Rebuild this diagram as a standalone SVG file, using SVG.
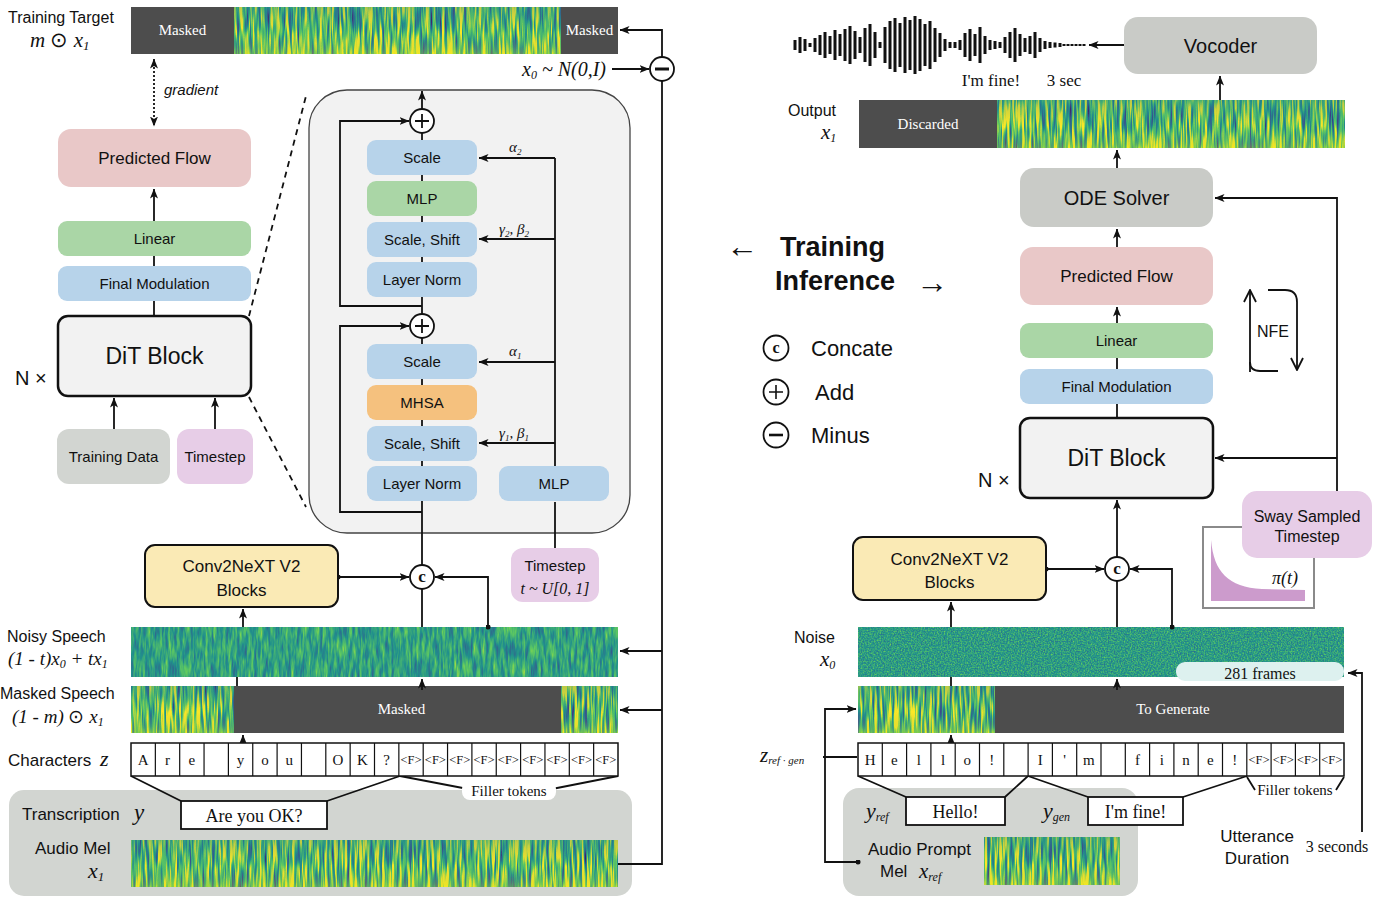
<svg xmlns="http://www.w3.org/2000/svg" width="1376" height="905" viewBox="0 0 1376 905">
<style>
.sans{font-family:"Liberation Sans",Arial,sans-serif;fill:#111}
.serif{font-family:"Liberation Serif","Times New Roman",serif;fill:#111}
.it{font-style:italic}
.b{font-weight:bold}
.mid{text-anchor:middle}
.w{fill:#fff}
.ln{stroke:#111;stroke-width:1.8;fill:none}
.arr{marker-end:url(#ah)}
.dotarr{marker-start:url(#dot);marker-end:url(#ah)}
.blue{fill:#b7d3ea}
.green{fill:#aad6a6}
.pink{fill:#e9c8c8}
.orange{fill:#f5c17e}
.purple{fill:#e7cde7}
.gray{fill:#d2d5d1}
.dgray{fill:#c9cbc7}
.yellow{fill:#faeab5;stroke:#111;stroke-width:2}
.dit{fill:#f2f2f2;stroke:#111;stroke-width:2.5}
.mask{fill:#4d4d4d}
.cell{fill:#fff;stroke:#111;stroke-width:1.5}
.op{fill:#fff;stroke:#111;stroke-width:1.8}
</style>
<defs>
<marker id="ah" viewBox="0 0 10 8" refX="9.5" refY="4" markerWidth="10" markerHeight="8" markerUnits="userSpaceOnUse" orient="auto-start-reverse"><path d="M0,0 L10,4 L0,8 L2.5,4 z" fill="#111"/></marker>
<marker id="dot" viewBox="0 0 6 6" refX="3" refY="3" markerWidth="5" markerHeight="5" markerUnits="userSpaceOnUse"><circle cx="3" cy="3" r="3" fill="#111"/></marker>
<marker id="oa" viewBox="0 0 14 14" refX="13" refY="7" markerWidth="14" markerHeight="14" markerUnits="userSpaceOnUse" orient="auto"><path d="M1,1 L13,7 L1,13" fill="none" stroke="#111" stroke-width="1.8"/></marker>
<filter id="spec" x="0" y="0" width="1" height="1" color-interpolation-filters="sRGB">
<feTurbulence type="fractalNoise" baseFrequency="0.4 0.03" numOctaves="2" seed="7"/>
<feColorMatrix type="matrix" values="1.7 0 0 0 -0.14  1.7 0 0 0 -0.14  1.7 0 0 0 -0.14  0 0 0 0 1"/>
<feComponentTransfer>
<feFuncR type="table" tableValues="0.27 0.23 0.13 0.37 0.99"/>
<feFuncG type="table" tableValues="0.0 0.32 0.57 0.79 0.91"/>
<feFuncB type="table" tableValues="0.33 0.55 0.55 0.38 0.15"/>
</feComponentTransfer>
<feComposite in2="SourceGraphic" operator="in"/>
</filter>
<filter id="noise" x="0" y="0" width="1" height="1" color-interpolation-filters="sRGB">
<feTurbulence type="fractalNoise" baseFrequency="0.7" numOctaves="2" seed="3"/>
<feColorMatrix type="matrix" values="0.6 0 0 0 0.25  0.6 0 0 0 0.25  0.6 0 0 0 0.25  0 0 0 0 1"/>
<feComponentTransfer>
<feFuncR type="table" tableValues="0.27 0.23 0.13 0.37 0.99"/>
<feFuncG type="table" tableValues="0.0 0.32 0.57 0.79 0.91"/>
<feFuncB type="table" tableValues="0.33 0.55 0.55 0.38 0.15"/>
</feComponentTransfer>
<feComposite in2="SourceGraphic" operator="in"/>
</filter>
<filter id="noisy" x="0" y="0" width="1" height="1" color-interpolation-filters="sRGB">
<feTurbulence type="fractalNoise" baseFrequency="0.35 0.05" numOctaves="3" seed="11"/>
<feColorMatrix type="matrix" values="0.7 0 0 0 0.22  0.7 0 0 0 0.22  0.7 0 0 0 0.22  0 0 0 0 1"/>
<feComponentTransfer>
<feFuncR type="table" tableValues="0.27 0.23 0.13 0.37 0.99"/>
<feFuncG type="table" tableValues="0.0 0.32 0.57 0.79 0.91"/>
<feFuncB type="table" tableValues="0.33 0.55 0.55 0.38 0.15"/>
</feComponentTransfer>
<feComposite in2="SourceGraphic" operator="in"/>
</filter>
<linearGradient id="specTint" x1="0" y1="0" x2="0" y2="1">
<stop offset="0" stop-color="#26828e" stop-opacity="0.3"/>
<stop offset="0.55" stop-color="#26828e" stop-opacity="0"/>
<stop offset="1" stop-color="#d8e219" stop-opacity="0.3"/>
</linearGradient>
</defs>
<rect width="1376" height="905" fill="#fff"/>

<!-- background panels -->
<g id="transcription-panel"><rect x="9" y="790" width="623" height="106" rx="15" class="gray"/></g>
<g id="inference-panel"><rect x="843" y="788" width="295" height="108" rx="16" class="gray"/></g>
<g id="dit-detail"><rect x="309" y="90" width="321" height="443" rx="38" fill="#f2f2f2" stroke="#444" stroke-width="1.3"/></g>

<!-- spectrograms -->
<g id="training-target">
<rect x="131" y="7" width="487" height="47" fill="#3b9" filter="url(#spec)"/>
<rect x="131" y="7" width="487" height="47" fill="url(#specTint)"/>
<rect x="131" y="7" width="103" height="47" class="mask"/>
<rect x="561" y="7" width="57" height="47" class="mask"/>
<text x="182.5" y="35" class="serif mid w" font-size="15">Masked</text>
<text x="589.5" y="35" class="serif mid w" font-size="15">Masked</text>
</g>
<g id="noisy-speech">
<rect x="131" y="627" width="487" height="50" fill="#2a9" filter="url(#noisy)"/>
</g>
<g id="masked-speech">
<rect x="131" y="686" width="487" height="47" fill="#3b9" filter="url(#spec)"/>
<rect x="131" y="686" width="487" height="47" fill="url(#specTint)"/>
<rect x="234" y="686" width="327" height="47" class="mask"/>
<text x="401.5" y="714" class="serif mid w" font-size="15">Masked</text>
</g>
<g id="audio-mel">
<rect x="131" y="840" width="487" height="47" fill="#3b9" filter="url(#spec)"/>
<rect x="131" y="840" width="487" height="47" fill="url(#specTint)"/>
</g>
<g id="output-x1">
<rect x="859" y="100" width="486" height="48" fill="#3b9" filter="url(#spec)"/>
<rect x="859" y="100" width="486" height="48" fill="url(#specTint)"/>
<rect x="859" y="100" width="138" height="48" class="mask"/>
<text x="928" y="129" class="serif mid w" font-size="15">Discarded</text>
</g>
<g id="noise-x0">
<rect x="858" y="627" width="486" height="50" fill="#2a9" filter="url(#noise)"/>
<rect x="1176" y="662" width="168" height="19" rx="9" fill="#ddf1ef"/>
<text x="1260" y="679" class="serif mid" font-size="16">281 frames</text>
</g>
<g id="masked-speech-inf">
<rect x="858" y="686" width="486" height="47" fill="#3b9" filter="url(#spec)"/>
<rect x="858" y="686" width="486" height="47" fill="url(#specTint)"/>
<rect x="995" y="686" width="349" height="47" class="mask"/>
<text x="1173" y="714" class="serif mid w" font-size="15">To Generate</text>
</g>
<g id="audio-prompt-mel">
<rect x="984" y="837" width="136" height="48" fill="#3b9" filter="url(#spec)"/>
<rect x="984" y="837" width="136" height="48" fill="url(#specTint)"/>
</g>

<!-- connectors -->
<g id="connectors">
<path d="M154,59 V126" class="ln" stroke-dasharray="2 2" marker-start="url(#ah)" marker-end="url(#ah)"/>
<path d="M154,221 V189" class="ln arr"/>
<path d="M154,266 V256" class="ln"/>
<path d="M154,316 V301" class="ln"/>
<path d="M114,429 V398" class="ln arr"/>
<path d="M215,429 V398" class="ln arr"/>
<path d="M249,316 L306,96" class="ln" stroke-width="1.5" stroke-dasharray="6 5"/>
<path d="M249,397 L306,507" class="ln" stroke-width="1.5" stroke-dasharray="6 5"/>
<path d="M422,565 V91" class="ln arr"/>
<path d="M422,306 H340 V121 H409" class="ln arr"/>
<path d="M422,512 H340 V326 H409" class="ln arr"/>
<path d="M555,466 V158" class="ln"/>
<path d="M555,158 H479" class="ln arr"/>
<path d="M555,239 H479" class="ln arr"/>
<path d="M555,362 H479" class="ln arr"/>
<path d="M555,443 H479" class="ln arr"/>
<path d="M555,548 V502" class="ln"/>
<path d="M338,577 H409" class="ln dotarr"/>
<path d="M488,627 V577 H435" class="ln dotarr"/>
<path d="M422,589 V627" class="ln"/>
<path d="M243,627 V609" class="ln arr"/>
<path d="M237,677 V686" class="ln"/>
<path d="M422,690 V679" class="ln arr"/>
<path d="M243,743 V735" class="ln arr"/>
<path d="M618,864 H662 V81" class="ln"/>
<path d="M662,651 H620" class="ln arr"/>
<path d="M662,710 H620" class="ln arr"/>
<path d="M662,57 V30 H620" class="ln arr"/>
<path d="M612,69 H649" class="ln arr"/>
<path d="M131,776 L181,801 M400,776 L327,801 M400,776 L468,789 M618,776 L552,789" class="ln" stroke-width="1.2"/>

<path d="M1124,45 H1089" class="ln arr"/>
<path d="M1220,100 V76" class="ln arr"/>
<path d="M1117,168 V150" class="ln arr"/>
<path d="M1117,247 V229" class="ln arr"/>
<path d="M1117,323 V307" class="ln arr"/>
<path d="M1117,358 V369" class="ln"/>
<path d="M1117,404 V418" class="ln"/>
<path d="M1337,491 V198 H1215" class="ln arr"/>
<path d="M1337,458 H1215" class="ln arr"/>
<path d="M1117,557 V500" class="ln arr"/>
<path d="M1117,581 V627" class="ln"/>
<path d="M1046,569 H1104" class="ln dotarr"/>
<path d="M1172,627 V569 H1130" class="ln dotarr"/>
<path d="M951,627 V602" class="ln arr"/>
<path d="M951,677 V686" class="ln"/>
<path d="M1117,690 V679" class="ln arr"/>
<path d="M951,743 V735" class="ln arr"/>
<path d="M858,862 H825 V709 H856" class="ln dotarr"/>
<path d="M823,757 H857" class="ln" stroke-width="1.2"/>
<path d="M858,776 L906,797 M1028,776 L1005,797 M1028,776 L1088,797 M1247,776 L1183,797 M1247,777 L1255,790 M1344,777 L1336,790" class="ln" stroke-width="1.2"/>
<path d="M1362,832 V673 H1348" class="ln arr"/>
<path d="M1250,372 V290" class="ln" marker-end="url(#oa)"/>
<path d="M1250,362 Q1250,371 1260,371 H1278" class="ln"/>
<path d="M1268,290 H1285 Q1297,290 1297,302 V370" class="ln" marker-end="url(#oa)"/>
</g>

<!-- left column nodes -->
<g id="training-target-label">
<text x="8" y="23" class="sans" font-size="16">Training Target</text>
<text x="30" y="47" class="serif it" font-size="21">m <tspan font-style="normal">⊙</tspan> x<tspan font-size="13" dy="3">1</tspan></text>
</g>
<g id="gradient-label"><text x="164" y="95" class="sans it" font-size="15">gradient</text></g>
<g id="x0-label"><text x="522" y="76" class="serif it" font-size="20">x<tspan font-size="12" dy="3">0</tspan><tspan dy="-3"> ~ N(0,I)</tspan></text></g>
<g id="minus-op"><circle cx="662" cy="69" r="12" class="op"/><path d="M655,69 H669" stroke="#111" stroke-width="3"/></g>

<g id="predicted-flow-l"><rect x="58" y="129" width="193" height="58" rx="13" class="pink"/><text x="154.5" y="164" class="sans mid" font-size="17">Predicted Flow</text></g>
<g id="linear-l"><rect x="58" y="221" width="193" height="35" rx="9" class="green"/><text x="154.5" y="244" class="sans mid" font-size="15">Linear</text></g>
<g id="final-mod-l"><rect x="58" y="266" width="193" height="35" rx="9" class="blue"/><text x="154.5" y="289" class="sans mid" font-size="15">Final Modulation</text></g>
<g id="dit-block-l"><rect x="58" y="316" width="193" height="80" rx="10" class="dit"/><text x="154.5" y="364" class="sans mid" font-size="23">DiT Block</text></g>
<g id="n-times-l"><text x="15" y="385" class="sans" font-size="20">N ×</text></g>
<g id="training-data"><rect x="57" y="429" width="113" height="55" rx="12" class="gray"/><text x="113.5" y="462" class="sans mid" font-size="15">Training Data</text></g>
<g id="timestep-l"><rect x="177" y="429" width="76" height="55" rx="12" class="purple"/><text x="215" y="462" class="sans mid" font-size="15">Timestep</text></g>

<!-- DiT detail -->
<g id="plus-top"><circle cx="422" cy="121" r="12" class="op"/><path d="M415,121 H429 M422,114 V128" stroke="#111" stroke-width="1.8"/></g>
<g id="scale-2"><rect x="367" y="140" width="110" height="35" rx="9" class="blue"/><text x="422" y="163" class="sans mid" font-size="15">Scale</text></g>
<g id="mlp-2"><rect x="367" y="181" width="110" height="35" rx="9" class="green"/><text x="422" y="204" class="sans mid" font-size="15">MLP</text></g>
<g id="scale-shift-2"><rect x="367" y="222" width="110" height="35" rx="9" class="blue"/><text x="422" y="245" class="sans mid" font-size="15">Scale, Shift</text></g>
<g id="layer-norm-2"><rect x="367" y="262" width="110" height="35" rx="9" class="blue"/><text x="422" y="285" class="sans mid" font-size="15">Layer Norm</text></g>
<g id="plus-mid"><circle cx="422" cy="326" r="12" class="op"/><path d="M415,326 H429 M422,319 V333" stroke="#111" stroke-width="1.8"/></g>
<g id="scale-1"><rect x="367" y="344" width="110" height="35" rx="9" class="blue"/><text x="422" y="367" class="sans mid" font-size="15">Scale</text></g>
<g id="mhsa"><rect x="367" y="385" width="110" height="35" rx="9" class="orange"/><text x="422" y="408" class="sans mid" font-size="15">MHSA</text></g>
<g id="scale-shift-1"><rect x="367" y="426" width="110" height="35" rx="9" class="blue"/><text x="422" y="449" class="sans mid" font-size="15">Scale, Shift</text></g>
<g id="layer-norm-1"><rect x="367" y="466" width="110" height="35" rx="9" class="blue"/><text x="422" y="489" class="sans mid" font-size="15">Layer Norm</text></g>
<g id="mlp-t"><rect x="499" y="466" width="110" height="35" rx="9" class="blue"/><text x="554" y="489" class="sans mid" font-size="15">MLP</text></g>
<g id="mod-labels">
<text x="509" y="152" class="serif it" font-size="15">α<tspan font-size="9" dy="3">2</tspan></text>
<text x="499" y="234" class="serif it" font-size="15">γ<tspan font-size="9" dy="3">2</tspan><tspan dy="-3">, β</tspan><tspan font-size="9" dy="3">2</tspan></text>
<text x="509" y="356" class="serif it" font-size="15">α<tspan font-size="9" dy="3">1</tspan></text>
<text x="499" y="438" class="serif it" font-size="15">γ<tspan font-size="9" dy="3">1</tspan><tspan dy="-3">, β</tspan><tspan font-size="9" dy="3">1</tspan></text>
</g>
<g id="timestep-u"><rect x="511" y="548" width="88" height="54" rx="12" class="purple"/><text x="555" y="571" class="sans mid" font-size="15">Timestep</text><text x="555" y="594" class="serif it mid" font-size="16">t ~ U[0, 1]</text></g>
<g id="concat-l"><circle cx="422" cy="577" r="12" class="op"/><text x="422" y="582" class="serif b mid" font-size="17">c</text></g>
<g id="conv-l"><rect x="145" y="545" width="193" height="62" rx="10" class="yellow"/><text x="241.5" y="572" class="sans mid" font-size="17">Conv2NeXT V2</text><text x="241.5" y="596" class="sans mid" font-size="17">Blocks</text></g>

<!-- left bottom labels -->
<g id="noisy-label"><text x="7" y="642" class="sans" font-size="16">Noisy Speech</text><text x="8" y="665" class="serif it" font-size="19">(1 - t)x<tspan font-size="12" dy="3">0</tspan><tspan dy="-3"> + tx</tspan><tspan font-size="12" dy="3">1</tspan></text></g>
<g id="masked-label"><text x="0" y="699" class="sans" font-size="16">Masked Speech</text><text x="12" y="723" class="serif it" font-size="19">(1 - m) <tspan font-style="normal">⊙</tspan> x<tspan font-size="12" dy="3">1</tspan></text></g>
<g id="characters-l">
<text x="8" y="766" class="sans" font-size="17">Characters</text><text x="100" y="766" class="serif it" font-size="22">z</text>
<rect x="131" y="743" width="487" height="33" class="cell"/>
<path d="M155.35,743V776M179.7,743V776M204.05,743V776M228.4,743V776M252.75,743V776M277.1,743V776M301.45,743V776M325.8,743V776M350.15,743V776M374.5,743V776M398.85,743V776M423.2,743V776M447.55,743V776M471.9,743V776M496.25,743V776M520.6,743V776M544.95,743V776M569.3,743V776M593.65,743V776" stroke="#111" stroke-width="1.2"/>
<g class="serif mid" font-size="15">
<text x="143.2" y="765">A</text><text x="167.5" y="765">r</text><text x="191.9" y="765">e</text><text x="240.6" y="765">y</text><text x="264.9" y="765">o</text><text x="289.3" y="765">u</text><text x="338" y="765">O</text><text x="362.3" y="765">K</text><text x="386.7" y="765">?</text>
</g>
<g class="serif mid" font-size="12.5">
<text x="411" y="764">&lt;F&gt;</text><text x="435.4" y="764">&lt;F&gt;</text><text x="459.7" y="764">&lt;F&gt;</text><text x="484.1" y="764">&lt;F&gt;</text><text x="508.4" y="764">&lt;F&gt;</text><text x="532.8" y="764">&lt;F&gt;</text><text x="557.1" y="764">&lt;F&gt;</text><text x="581.5" y="764">&lt;F&gt;</text><text x="605.8" y="764">&lt;F&gt;</text>
</g>
</g>
<g id="filler-l"><rect x="462" y="781" width="94" height="19" rx="8" fill="#fff"/><text x="509" y="796" class="serif mid" font-size="15">Filler tokens</text></g>
<g id="transcription-l"><text x="22" y="820" class="sans" font-size="17">Transcription</text><text x="134" y="820" class="serif it" font-size="23">y</text>
<rect x="181" y="801" width="146" height="28" fill="#fff" stroke="#111" stroke-width="1.8"/><text x="254" y="822" class="serif mid" font-size="18">Are you OK?</text></g>
<g id="audio-mel-label"><text x="35" y="854" class="sans" font-size="17">Audio Mel</text><text x="88" y="878" class="serif it" font-size="22">x<tspan font-size="13" dy="3">1</tspan></text></g>

<!-- legend -->
<g id="legend">
<text x="726" y="257" class="serif" font-size="32">←</text>
<text x="780" y="256" class="sans b" font-size="27">Training</text>
<text x="775" y="290" class="sans b" font-size="27">Inference</text>
<text x="916" y="293" class="serif" font-size="32">→</text>
<circle cx="776" cy="348" r="12.5" class="op" stroke-width="1.6"/><text x="776" y="353" class="serif b mid" font-size="16">c</text>
<text x="811" y="356" class="sans" font-size="22">Concate</text>
<circle cx="776" cy="392" r="12.5" class="op" stroke-width="1.6"/><path d="M769,392 H783 M776,385 V399" stroke="#111" stroke-width="1.6"/>
<text x="815" y="400" class="sans" font-size="22">Add</text>
<circle cx="776" cy="435" r="12.5" class="op" stroke-width="1.6"/><path d="M769,435 H783" stroke="#111" stroke-width="2.6"/>
<text x="811" y="443" class="sans" font-size="22">Minus</text>
</g>

<!-- right column nodes -->
<g id="waveform">
<path d="M795 40V50M800 37V53M805 39V51M810 43V47M815 38V52M820 35V55M825 32V58M830 36V54M835 30V60M840 34V56M845 29V61M850 26V64M855 31V59M860 37V53M865 28V62M870 24V66M875 32V58M880 42V48M885 27V63M890 21V69M895 18V72M900 23V67M905 17V73M910 20V70M915 16V74M920 19V71M925 24V66M930 21V69M935 28V62M940 33V57M945 39V51M950 42V48M955 42V48M960 40V50M965 33V57M970 29V61M975 34V56M980 27V63M985 36V54M990 40V50M995 41V49M1000 42V48M1005 37V53M1010 32V58M1015 28V62M1020 34V56M1025 38V52M1030 36V54M1035 32V58M1040 38V52M1045 41V49M1050 42V48M1055 42.5V47.5M1060 43V47M1064 44V46M1068 44V46M1072 44V46M1076 44V46M1080 44V46M1084 44V46" stroke="#111" stroke-width="3" fill="none"/>
<text x="991" y="86" class="serif mid" font-size="17">I'm fine!</text>
<text x="1064" y="86" class="serif mid" font-size="17">3 sec</text>
</g>
<g id="vocoder"><rect x="1124" y="17" width="193" height="57" rx="14" class="dgray"/><text x="1220.5" y="53" class="sans mid" font-size="20">Vocoder</text></g>
<g id="output-label"><text x="788" y="116" class="sans" font-size="16">Output</text><text x="821" y="139" class="serif it" font-size="21">x<tspan font-size="12" dy="3">1</tspan></text></g>
<g id="ode-solver"><rect x="1020" y="168" width="193" height="59" rx="14" class="dgray"/><text x="1116.5" y="205" class="sans mid" font-size="20">ODE Solver</text></g>
<g id="predicted-flow-r"><rect x="1020" y="247" width="193" height="58" rx="13" class="pink"/><text x="1116.5" y="282" class="sans mid" font-size="17">Predicted Flow</text></g>
<g id="linear-r"><rect x="1020" y="323" width="193" height="35" rx="9" class="green"/><text x="1116.5" y="346" class="sans mid" font-size="15">Linear</text></g>
<g id="final-mod-r"><rect x="1020" y="369" width="193" height="35" rx="9" class="blue"/><text x="1116.5" y="392" class="sans mid" font-size="15">Final Modulation</text></g>
<g id="dit-block-r"><rect x="1020" y="418" width="193" height="80" rx="10" class="dit"/><text x="1116.5" y="466" class="sans mid" font-size="23">DiT Block</text></g>
<g id="n-times-r"><text x="978" y="487" class="sans" font-size="20">N ×</text></g>
<g id="nfe"><text x="1273" y="337" class="sans mid" font-size="16">NFE</text></g>
<g id="pi-chart"><rect x="1203" y="527" width="111" height="81" fill="#fff" stroke="#8a8a8a" stroke-width="2"/>
<path d="M1211,601 V540 C1214,572 1228,587 1262,589 L1305,590 V601 Z" fill="#cc9bcc"/>
<text x="1272" y="584" class="serif it" font-size="18">π(t)</text></g>
<g id="sway-timestep"><rect x="1242" y="491" width="130" height="67" rx="15" class="purple"/><text x="1307" y="522" class="sans mid" font-size="16">Sway Sampled</text><text x="1307" y="542" class="sans mid" font-size="16">Timestep</text></g>
<g id="concat-r"><circle cx="1117" cy="569" r="12" class="op"/><text x="1117" y="574" class="serif b mid" font-size="17">c</text></g>
<g id="conv-r"><rect x="853" y="537" width="193" height="63" rx="10" class="yellow"/><text x="949.5" y="565" class="sans mid" font-size="17">Conv2NeXT V2</text><text x="949.5" y="588" class="sans mid" font-size="17">Blocks</text></g>
<g id="noise-label"><text x="794" y="643" class="sans" font-size="16">Noise</text><text x="820" y="666" class="serif it" font-size="21">x<tspan font-size="12" dy="3">0</tspan></text></g>
<g id="characters-r">
<text x="760" y="762" class="serif it" font-size="21">z<tspan font-size="11" dy="2">ref · gen</tspan></text>
<rect x="858" y="743" width="486" height="33" class="cell"/>
<path d="M882.3,743V776M906.6,743V776M930.9,743V776M955.2,743V776M979.5,743V776M1003.8,743V776M1028.1,743V776M1052.4,743V776M1076.7,743V776M1101,743V776M1125.3,743V776M1149.6,743V776M1173.9,743V776M1198.2,743V776M1222.5,743V776M1246.8,743V776M1271.1,743V776M1295.4,743V776M1319.7,743V776" stroke="#111" stroke-width="1.2"/>
<g class="serif mid" font-size="15">
<text x="870.15" y="765">H</text><text x="894.45" y="765">e</text><text x="918.75" y="765">l</text><text x="943.05" y="765">l</text><text x="967.35" y="765">o</text><text x="991.65" y="765">!</text><text x="1040.25" y="765">I</text><text x="1064.55" y="765">'</text><text x="1088.85" y="765">m</text><text x="1137.45" y="765">f</text><text x="1161.75" y="765">i</text><text x="1186.05" y="765">n</text><text x="1210.35" y="765">e</text><text x="1234.65" y="765">!</text>
</g>
<g class="serif mid" font-size="12.5">
<text x="1258.95" y="764">&lt;F&gt;</text><text x="1283.25" y="764">&lt;F&gt;</text><text x="1307.55" y="764">&lt;F&gt;</text><text x="1331.85" y="764">&lt;F&gt;</text>
</g>
</g>
<g id="filler-r"><text x="1295" y="795" class="serif mid" font-size="15">Filler tokens</text></g>
<g id="y-ref"><text x="866" y="818" class="serif it" font-size="22">y<tspan font-size="12" dy="3">ref</tspan></text>
<rect x="906" y="797" width="99" height="28" fill="#fff" stroke="#111" stroke-width="1.8"/><text x="955.5" y="818" class="serif mid" font-size="18">Hello!</text></g>
<g id="y-gen"><text x="1043" y="818" class="serif it" font-size="22">y<tspan font-size="12" dy="3">gen</tspan></text>
<rect x="1088" y="797" width="95" height="28" fill="#fff" stroke="#111" stroke-width="1.8"/><text x="1135.5" y="818" class="serif mid" font-size="18">I'm fine!</text></g>
<g id="audio-prompt-label"><text x="868" y="855" class="sans" font-size="17">Audio Prompt</text><text x="880" y="877" class="sans" font-size="17">Mel</text><text x="919" y="878" class="serif it" font-size="21">x<tspan font-size="12" dy="3">ref</tspan></text></g>
<g id="utterance-duration"><text x="1257" y="842" class="sans mid" font-size="17">Utterance</text><text x="1257" y="864" class="sans mid" font-size="17">Duration</text><text x="1337" y="852" class="serif mid" font-size="16">3 seconds</text></g>
</svg>
